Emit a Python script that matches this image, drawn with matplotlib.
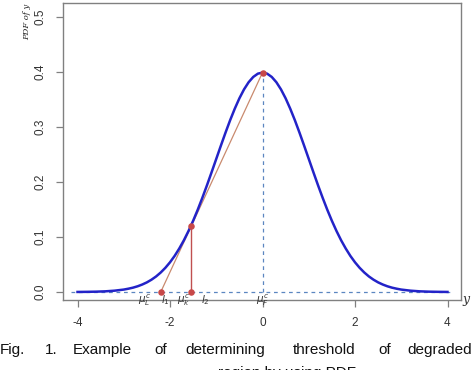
import matplotlib
matplotlib.use("Agg")
import matplotlib.pyplot as plt

# ---- data ----
curve_x = [-4.0, -3.8, -3.6, -3.4, -3.2, -3.0, -2.9, -2.8, -2.7, -2.6, -2.5, -2.4, -2.3, -2.2,
           -2.1, -2.0, -1.9, -1.8, -1.7, -1.6, -1.5, -1.4, -1.3, -1.2, -1.1, -1.0, -0.9,
           -0.8, -0.7, -0.6, -0.5, -0.4, -0.3, -0.2, -0.1, 0.0, 0.1, 0.2, 0.3, 0.4, 0.5,
           0.6, 0.7, 0.8, 0.9, 1.0, 1.1, 1.2, 1.3, 1.4, 1.5, 1.6, 1.7, 1.8, 1.9, 2.0, 2.1,
           2.2, 2.3, 2.4, 2.5, 2.6, 2.7, 2.8, 2.9, 3.0, 3.2, 3.4, 3.6, 3.8, 4.0]
curve_y = [0.0001, 0.0003, 0.0006, 0.0012, 0.0024, 0.0044, 0.0060, 0.0079, 0.0104, 0.0136,
           0.0175, 0.0224, 0.0283, 0.0355, 0.0440, 0.0540, 0.0656, 0.0790, 0.0940, 0.1109,
           0.1295, 0.1497, 0.1714, 0.1942, 0.2179, 0.2420, 0.2661, 0.2897, 0.3123, 0.3332,
           0.3521, 0.3683, 0.3814, 0.3910, 0.3970, 0.3989, 0.3970, 0.3910, 0.3814, 0.3683,
           0.3521, 0.3332, 0.3123, 0.2897, 0.2661, 0.2420, 0.2179, 0.1942, 0.1714, 0.1497,
           0.1295, 0.1109, 0.0940, 0.0790, 0.0656, 0.0540, 0.0440, 0.0355, 0.0283, 0.0224,
           0.0175, 0.0136, 0.0104, 0.0079, 0.0060, 0.0044, 0.0024, 0.0012, 0.0006, 0.0003,
           0.0001]
peak = (0.0, 0.3989)
tangent_pt = (-1.55, 0.12)
tangent_base = (-2.2, 0.0)
vert_base = (-1.55, 0.0)
x_ticks = [-4, -2, 0, 2, 4]
y_ticks = [0.0, 0.1, 0.2, 0.3, 0.4, 0.5]
y_tick_labels = ["0.0", "0.1", "0.2", "0.3", "0.4", "0.5"]
marker_labels = [(-2.56, r"$\mu_L^{c}$"), (-2.1, r"$l_1$"), (-1.7, r"$\mu_k^{c}$"),
                 (-1.24, r"$l_2$"), (0.0, r"$\mu_F^{c}$")]
caption_words = [(0, "Fig."), (45, "1."), (73, "Example"), (154, "of"), (185, "determining"),
                 (293, "threshold"), (378, "of")]
caption_last = "degraded"
caption_line2 = "region by using PDF"

W, H = 474, 370
fig = plt.figure(figsize=(W / 100, H / 100), dpi=100)
ax = fig.add_axes([63 / W, 1 - 300 / H, (461 - 63) / W, (300 - 3) / H])

ax.plot(curve_x, curve_y, color="#2323c8", lw=1.8, zorder=3)
ax.axhline(0, xmin=0.02, xmax=0.98, color="#5b86c0", lw=0.9, ls=(0, (3, 3)), zorder=1)
ax.plot([peak[0], peak[0]], [0, peak[1]], color="#5b86c0", lw=0.9, ls=(0, (3, 3)), zorder=1)
ax.plot([tangent_base[0], peak[0]], [tangent_base[1], peak[1]], color="#c98a6e", lw=0.9, zorder=2)
ax.plot([vert_base[0], tangent_pt[0]], [vert_base[1], tangent_pt[1]], color="#c05050", lw=1.0, zorder=2)
px = [peak[0], tangent_pt[0], tangent_base[0], vert_base[0]]
py = [peak[1], tangent_pt[1], tangent_base[1], vert_base[1]]
ax.scatter(px, py, s=22, color="#c84848", zorder=4, linewidths=0)

for xv, lab in marker_labels:
    ax.text(xv, -0.002, lab, fontsize=7.5, family="DejaVu Serif", ha="center", va="top",
            color="#333333", zorder=5)

ax.set_xlim((63 - 262.5) / 46.25, (461 - 262.5) / 46.25)
ax.set_ylim((292 - 300) / 550, (292 - 3) / 550)
ax.set_xticks(x_ticks)
ax.set_xticklabels([str(t) for t in x_ticks])
ax.set_yticks(y_ticks)
ax.set_yticklabels(y_tick_labels, rotation=90, va="center")
for s in ax.spines.values():
    s.set_color("#808080")
    s.set_linewidth(1.0)
ax.tick_params(axis="both", length=5, width=0.9, color="#808080", labelsize=8.5,
               labelcolor="#333333", pad=7)
for lab in ax.get_xticklabels() + ax.get_yticklabels():
    lab.set_family("Liberation Sans")

fig.text(27 / W, 1 - 40 / H, "PDF of y", rotation=90, ha="center", va="bottom",
         fontsize=6, style="italic", family="DejaVu Serif", color="#222222")
fig.text(466 / W, 1 - 300 / H, "y", ha="center", va="center", fontsize=9,
         style="italic", family="DejaVu Serif", color="#333333")

cap_font = "Liberation Sans"
for xp, w in caption_words:
    fig.text(xp / W, 1 - 354 / H, w, ha="left", va="baseline", fontsize=11,
             family=cap_font, color="#111111")
fig.text(472 / W, 1 - 354 / H, caption_last, ha="right", va="baseline", fontsize=11,
         family=cap_font, color="#111111")
fig.text(287 / W, 1 - 377 / H, caption_line2, ha="center", va="baseline", fontsize=11,
         family=cap_font, color="#111111")

fig.savefig("out.png", dpi=100)
